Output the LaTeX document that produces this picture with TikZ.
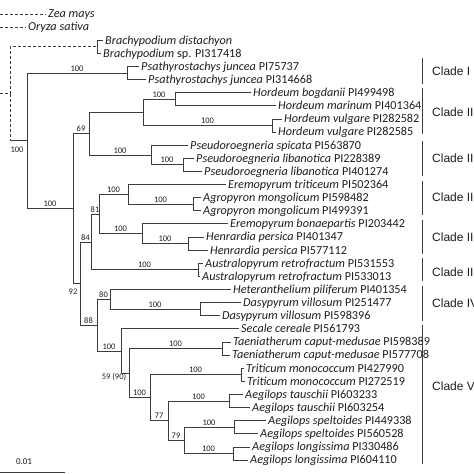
\documentclass[tikz,border=0pt]{standalone}
\usepackage{fontspec}
\setmainfont{Carlito}
\newfontfamily\cladefont{Liberation Sans}
\definecolor{lc}{HTML}{3C3C3C}
\definecolor{tc}{HTML}{1E1E1E}
\begin{document}
\begin{tikzpicture}[x=1pt,y=-1pt,
  br/.style={draw=lc, line width=0.85pt},
  dsh/.style={br, dash pattern=on 3pt off 2pt},
  leaf/.style={anchor=west, inner xsep=2pt, inner ysep=0pt, text height=7.6pt, text depth=0pt, font=\fontsize{12.2}{13}\selectfont, text=tc},
  bs/.style={font=\fontsize{8.5}{9}\selectfont, inner sep=0.5pt, text=tc},
  lab/.style={bs, pos=.75, above=1pt},
  clade/.style={anchor=west, inner sep=0pt, font=\cladefont\fontsize{12}{14}\selectfont, text=tc}]
\useasboundingbox (0,0) rectangle (474,474);
% internal nodes
\coordinate (rt) at (0,93.8);
\coordinate (R) at (10,93.8);
\coordinate (BR) at (97,46.8);
\coordinate (RA) at (10,140.85);
\coordinate (A) at (27,140.85);
\coordinate (P) at (127,73.05);
\coordinate (B) at (73,208.65);
\coordinate (C) at (89,133.7);
\coordinate (H) at (143,112.4);
\coordinate (H1) at (175,99.25);
\coordinate (HV) at (272,125.55);
\coordinate (PS) at (151,155.0);
\coordinate (PL) at (183,164.85);
\coordinate (D) at (80,283.6);
\coordinate (E) at (91,242.0);
\coordinate (G) at (99,214.1);
\coordinate (EA) at (128,194.4);
\coordinate (AM) at (193,204.25);
\coordinate (EH) at (142,233.75);
\coordinate (HP) at (188,243.6);
\coordinate (AU) at (198,269.85);
\coordinate (F) at (97,325.2);
\coordinate (IV) at (110,299.35);
\coordinate (DV) at (200,309.2);
\coordinate (V) at (121,351.0);
\coordinate (W) at (129,373.15);
\coordinate (X) at (222,348.55);
\coordinate (Y) at (150,397.75);
\coordinate (TR) at (241,374.8);
\coordinate (Z) at (168,420.7);
\coordinate (TA) at (229,401.05);
\coordinate (Q) at (184,440.4);
\coordinate (SP) at (234,427.25);
\coordinate (LO) at (233,453.55);
% leaves
\node[leaf] (zea) at (46,14) {\textit{Zea mays}};
\node[leaf] (ory) at (26,27.1) {\textit{Oryza sativa}};
\node[leaf] (bd) at (103,40.2) {\textit{Brachypodium distachyon}};
\node[leaf] (bsp) at (101,53.4) {\textit{Brachypodium} sp. PI317418};
\node[leaf] (ps1) at (139,66.5) {\textit{Psathyrostachys juncea} PI75737};
\node[leaf] (ps2) at (146,79.6) {\textit{Psathyrostachys juncea} PI314668};
\node[leaf] (bog) at (251,92.7) {\textit{Hordeum bogdanii} PI499498};
\node[leaf] (mar) at (276,105.8) {\textit{Hordeum marinum} PI401364};
\node[leaf] (vu1) at (282,119.0) {\textit{Hordeum vulgare} PI282582};
\node[leaf] (vu2) at (276,132.1) {\textit{Hordeum vulgare} PI282585};
\node[leaf] (spi) at (188,145.2) {\textit{Pseudoroegneria spicata} PI563870};
\node[leaf] (li1) at (194,158.3) {\textit{Pseudoroegneria libanotica} PI228389};
\node[leaf] (li2) at (202,171.4) {\textit{Pseudoroegneria libanotica} PI401274};
\node[leaf] (etr) at (226,184.6) {\textit{Eremopyrum triticeum} PI502364};
\node[leaf] (ag1) at (201,197.7) {\textit{Agropyron mongolicum} PI598482};
\node[leaf] (ag2) at (201,210.8) {\textit{Agropyron mongolicum} PI499391};
\node[leaf] (ebo) at (228,223.9) {\textit{Eremopyrum bonaepartis} PI203442};
\node[leaf] (he1) at (204,237.0) {\textit{Henrardia persica} PI401347};
\node[leaf] (he2) at (208,250.2) {\textit{Henrardia persica} PI577112};
\node[leaf] (au1) at (203,263.3) {\textit{Australopyrum retrofractum} PI531553};
\node[leaf] (au2) at (200,276.4) {\textit{Australopyrum retrofractum} PI533013};
\node[leaf] (het) at (231,289.5) {\textit{Heteranthelium piliferum} PI401354};
\node[leaf] (da1) at (241,302.6) {\textit{Dasypyrum villosum} PI251477};
\node[leaf] (da2) at (220,315.8) {\textit{Dasypyrum villosum} PI598396};
\node[leaf] (sec) at (239,328.9) {\textit{Secale cereale} PI561793};
\node[leaf] (ta1) at (231,342.0) {\textit{Taeniatherum caput-medusae} PI598389};
\node[leaf] (ta2) at (230,355.1) {\textit{Taeniatherum caput-medusae} PI577708};
\node[leaf] (tr1) at (244,368.2) {\textit{Triticum monococcum} PI427990};
\node[leaf] (tr2) at (245,381.4) {\textit{Triticum monococcum} PI272519};
\node[leaf] (tau1) at (243,394.5) {\textit{Aegilops tauschii} PI603233};
\node[leaf] (tau2) at (250,407.6) {\textit{Aegilops tauschii} PI603254};
\node[leaf] (sp1) at (266,420.7) {\textit{Aegilops speltoides} PI449338};
\node[leaf] (sp2) at (258,433.8) {\textit{Aegilops speltoides} PI560528};
\node[leaf] (lo1) at (250,447.0) {\textit{Aegilops longissima} PI330486};
\node[leaf] (lo2) at (248,460.1) {\textit{Aegilops longissima} PI604110};
% outgroups
\coordinate (z0) at (0,14);
\coordinate (o0) at (0,27.1);
\draw[dsh] (z0) -- (zea.west);
\draw[dsh] (o0) -- (ory.west);
\draw[dsh] (rt) -- (R);
\draw[dsh] (R) |- (BR);
\draw[dsh] (R) -- (RA);
\draw[br] (RA) -- (A);
\draw[br] (BR) |- (bd.west);
\draw[br] (BR) |- (bsp.west);
% ingroup
\draw[br] (A) |- node[lab]{100} (P);
\draw[br] (A) |- node[lab]{100} (B);
\draw[br] (P) |- (ps1.west);
\draw[br] (P) |- (ps2.west);
\draw[br] (B) |- node[lab]{69} (C);
\draw[br] (B) |- (D);
\draw[br] (C) |- (H);
\draw[br] (C) |- node[lab]{100} (PS);
\draw[br] (H) |- node[lab]{100} (H1);
\draw[br] (H) |- node[lab]{100} (HV);
\draw[br] (H1) |- (bog.west);
\draw[br] (H1) |- (mar.west);
\draw[br] (HV) |- (vu1.west);
\draw[br] (HV) |- (vu2.west);
\draw[br] (PS) |- (spi.west);
\draw[br] (PS) |- node[lab]{100} (PL);
\draw[br] (PL) |- (li1.west);
\draw[br] (PL) |- (li2.west);
\draw[br] (D) |- node[lab]{84} (E);
\draw[br] (D) |- node[lab]{88} (F);
\draw[br] (E) |- node[lab]{81} (G);
\draw[br] (E) |- node[lab]{100} (AU);
\draw[br] (G) |- node[lab]{100} (EA);
\draw[br] (G) |- node[lab]{100} (EH);
\draw[br] (EA) |- (etr.west);
\draw[br] (EA) |- node[lab]{100} (AM);
\draw[br] (AM) |- (ag1.west);
\draw[br] (AM) |- (ag2.west);
\draw[br] (EH) |- (ebo.west);
\draw[br] (EH) |- node[lab]{100} (HP);
\draw[br] (HP) |- (he1.west);
\draw[br] (HP) |- (he2.west);
\draw[br] (AU) |- (au1.west);
\draw[br] (AU) |- (au2.west);
\draw[br] (F) |- node[lab]{80} (IV);
\draw[br] (F) |- node[lab]{100} (V);
\draw[br] (IV) |- (het.west);
\draw[br] (IV) |- node[lab]{100} (DV);
\draw[br] (DV) |- (da1.west);
\draw[br] (DV) |- (da2.west);
\draw[br] (V) |- (sec.west);
\draw[br] (V) |- (W);
\draw[br] (W) |- node[lab]{100} (X);
\draw[br] (W) |- node[lab]{100} (Y);
\draw[br] (X) |- (ta1.west);
\draw[br] (X) |- (ta2.west);
\draw[br] (Y) |- node[lab]{100} (TR);
\draw[br] (Y) |- node[lab]{77} (Z);
\draw[br] (TR) |- (tr1.west);
\draw[br] (TR) |- (tr2.west);
\draw[br] (Z) |- node[lab]{100} (TA);
\draw[br] (Z) |- node[lab]{79} (Q);
\draw[br] (TA) |- (tau1.west);
\draw[br] (TA) |- (tau2.west);
\draw[br] (Q) |- node[lab]{100} (SP);
\draw[br] (Q) |- node[lab]{100} (LO);
\draw[br] (SP) |- (sp1.west);
\draw[br] (SP) |- (sp2.west);
\draw[br] (LO) |- (lo1.west);
\draw[br] (LO) |- (lo2.west);
% special support labels
\node[bs] (lA) at (17,150) {100};
\node[bs] (l92) at (73,292) {92};
\node[bs] (l59) at (114,377) {59 (90)};
% clade bars and labels
\draw[br] (422,58) -- (422,84);
\draw[br] (422,88) -- (422,134);
\draw[br] (422,141) -- (422,176);
\draw[br] (422,181) -- (422,215);
\draw[br] (422,220) -- (422,254);
\draw[br] (422,258) -- (422,281);
\draw[br] (422,286) -- (422,321);
\draw[br] (422,325) -- (422,464);
\node[clade] (c1) at (432,71) {Clade I};
\node[clade] (c2) at (432,112) {Clade II};
\node[clade] (c3) at (432,158) {Clade III};
\node[clade] (c4) at (432,197) {Clade III};
\node[clade] (c5) at (432,237) {Clade III};
\node[clade] (c6) at (432,272) {Clade III};
\node[clade] (c7) at (432,303) {Clade IV};
\node[clade] (c8) at (432,386) {Clade V};
% scale bar
\coordinate (sb1) at (0,472);
\coordinate (sb2) at (65,472);
\draw[br] (sb1) -- (sb2);
\node[bs, font=\fontsize{9}{10}\selectfont] (sbl) at (24,462) {0.01};
\end{tikzpicture}
\end{document}
